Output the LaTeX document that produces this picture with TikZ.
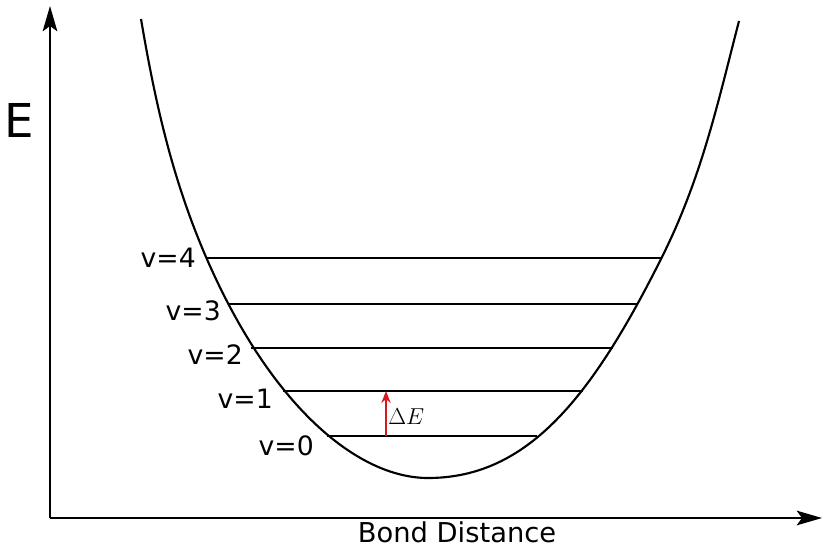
\documentclass[tikz,border=0pt]{standalone}
\usepackage{fontspec}
\usepackage{xcolor}
\usepackage{tikz}
\usetikzlibrary{arrows.meta, positioning, calc}
\newfontfamily\labelfont{DejaVu Sans}
\definecolor{gapred}{HTML}{D7191F}

\begin{document}
\begin{tikzpicture}[
  x=0.75pt, y=-0.75pt,
  axis/.style={line width=1.2pt, -{Stealth[length=19pt, width=11pt, inset=4pt]}},
  level/.style={line width=1.1pt},
  vlabel/.style={font=\labelfont\fontsize{20}{21}\selectfont, anchor=east, inner sep=0pt},
]
  \useasboundingbox (0,0) rectangle (827,548);

  % axes
  \coordinate (origin) at (50,518);
  \coordinate (ytip) at (50,6);
  \coordinate (xtip) at (822,518);
  \draw[axis] (origin) -- (ytip);
  \draw[axis] (origin) -- (xtip);
  \node[font=\labelfont\fontsize{35}{36}\selectfont, inner sep=0pt] (elabel) at (19,120) {E};
  \node[font=\labelfont\fontsize{20.5}{21}\selectfont, inner sep=0pt, anchor=base] (dlabel) at (457,542) {Bond Distance};

  % potential well
  \draw[line width=1.6pt] (141,19)
    .. controls (154.6,99) and (171.4,177) .. (206,257)
    .. controls (271,407) and (358,478) .. (428,478)
    .. controls (528,478) and (592,397) .. (662,257)
    .. controls (702,177) and (718.2,101) .. (739,21);

  % vibrational levels
  \coordinate (l4) at (206,258); \coordinate (r4) at (662,258);
  \coordinate (l3) at (228,304); \coordinate (r3) at (637,304);
  \coordinate (l2) at (251,348); \coordinate (r2) at (613,348);
  \coordinate (l1) at (283,391); \coordinate (r1) at (583,391);
  \coordinate (l0) at (327,436); \coordinate (r0) at (537,436);
  \foreach \n in {0,...,4}
    \draw[level] (l\n) -- (r\n);

  \node[vlabel] (v4) at (196,258) {v=4};
  \node[vlabel] (v3) at (221,311) {v=3};
  \node[vlabel] (v2) at (243,355) {v=2};
  \node[vlabel] (v1) at (273,399) {v=1};
  \node[vlabel] (v0) at (314,446) {v=0};

  % transition
  \coordinate (gapbot) at (386,436);
  \coordinate (gaptop) at (386,391);
  \draw[gapred, line width=1.2pt, -{Stealth[length=9pt, width=7pt]}] (gapbot) -- (gaptop);
  \node[font=\fontsize{16.5}{17}\selectfont, inner sep=0pt, anchor=west] (gap) at (388,417) {$\Delta E$};
\end{tikzpicture}
\end{document}
